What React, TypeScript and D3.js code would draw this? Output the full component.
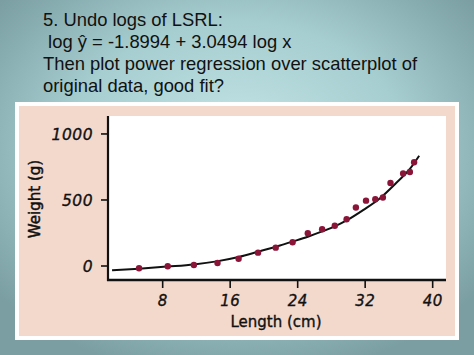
import React from "react";
import * as d3 from "d3";

const titleLines = [
  "5. Undo logs of LSRL:",
  " log ŷ = -1.8994 + 3.0494 log x",
  "Then plot power regression over scatterplot of",
  "original data, good fit?",
];

const lengthCm = [5.2, 8.6, 11.7, 14.5, 17.0, 19.3, 21.4, 23.4, 25.2, 26.9, 28.4, 29.8, 30.9, 32.1, 33.2, 34.1, 35.0, 36.5, 37.3, 37.8];
const weightG = [-17, -2, 8, 23, 55, 101, 139, 180, 248, 278, 305, 354, 443, 495, 506, 519, 629, 701, 712, 786];

const fitX = [2, 5.2, 8.6, 11.7, 14.4, 17, 19.3, 21.9, 23.4, 25.2, 26.9, 28.4, 29.8, 31.8, 33.8, 35.7, 37.3, 38.4];
const fitY = [-32, -20, -4, 12, 35, 68, 108, 155, 185, 222, 262, 300, 345, 425, 515, 630, 735, 835];

const xTicks = [8, 16, 24, 32, 40];
const yTicks = [0, 500, 1000];

const W = 474;
const H = 355;
const plot = { left: 108, right: 446, top: 116, bottom: 280 };

export default function App() {
  const x = d3.scaleLinear().domain([1.52, 41.58]).range([plot.left, plot.right]);
  const y = d3.scaleLinear().domain([-106, 1136]).range([plot.bottom, plot.top]);
  const line = d3
    .line<number>()
    .x((_, i) => x(fitX[i]))
    .y((d) => y(d))
    .curve(d3.curveMonotoneX);

  const tickFont = "'DejaVu Sans', sans-serif";

  return (
    <svg
      width={W}
      height={H}
      style={{ position: "absolute", left: 0, top: 0, display: "block" }}
    >
      <defs>
        <radialGradient id="bg" cx="50%" cy="42%" r="65%">
          <stop offset="0%" stopColor="#c6e7e8" />
          <stop offset="55%" stopColor="#a6cdd0" />
          <stop offset="100%" stopColor="#7a9ea2" />
        </radialGradient>
      </defs>
      <rect x={0} y={0} width={W} height={H} fill="url(#bg)" />

      {titleLines.map((t, i) => (
        <text
          key={i}
          x={43}
          y={26 + i * 21.9}
          fontFamily="'Liberation Sans', Arial, sans-serif"
          fontSize={18.4}
          fill="#111"
          style={{ whiteSpace: "pre" }}
        >
          {t}
        </text>
      ))}

      <rect x={15} y={102} width={444} height={238} fill="#ffffff" />
      <rect x={19} y={106} width={436} height={230} fill="#f3d8cc" />
      <rect
        x={plot.left}
        y={plot.top}
        width={plot.right - plot.left}
        height={plot.bottom - plot.top}
        fill="#ffffff"
      />

      <path d={line(fitY) || ""} fill="none" stroke="#111" strokeWidth={2} />

      {lengthCm.map((lx, i) => (
        <circle key={i} cx={x(lx)} cy={y(weightG[i])} r={3.2} fill="#8a1538" />
      ))}

      <line x1={plot.left} x2={plot.left} y1={plot.top} y2={plot.bottom + 1} stroke="#111" strokeWidth={2.2} />
      <line x1={plot.left - 1} x2={plot.right} y1={plot.bottom} y2={plot.bottom} stroke="#111" strokeWidth={2.4} />

      {yTicks.map((t) => (
        <g key={t}>
          <line x1={plot.left - 7} x2={plot.left} y1={y(t)} y2={y(t)} stroke="#111" strokeWidth={1.6} />
          <text
            x={93}
            y={y(t)}
            dy="0.36em"
            textAnchor="end"
            fontFamily={tickFont}
            fontStyle="italic"
            fontSize={15.5}
            letterSpacing={0.5}
            fill="#111"
            stroke="#111"
            strokeWidth={0.35}
          >
            {t}
          </text>
        </g>
      ))}

      {xTicks.map((t) => (
        <g key={t}>
          <line x1={x(t)} x2={x(t)} y1={plot.bottom} y2={plot.bottom + 8} stroke="#111" strokeWidth={1.6} />
          <text
            x={x(t)}
            y={306}
            textAnchor="middle"
            fontFamily={tickFont}
            fontStyle="italic"
            fontSize={15}
            letterSpacing={0.4}
            fill="#111"
            stroke="#111"
            strokeWidth={0.35}
          >
            {t}
          </text>
        </g>
      ))}

      <text
        x={276}
        y={327}
        textAnchor="middle"
        fontFamily={tickFont}
        fontSize={15}
        fill="#111"
        stroke="#111"
        strokeWidth={0.35}
      >
        Length (cm)
      </text>
      <text
        transform="translate(39.5,199) rotate(-90)"
        textAnchor="middle"
        fontFamily={tickFont}
        fontSize={15}
        fill="#111"
        stroke="#111"
        strokeWidth={0.45}
      >
        Weight (g)
      </text>
    </svg>
  );
}
